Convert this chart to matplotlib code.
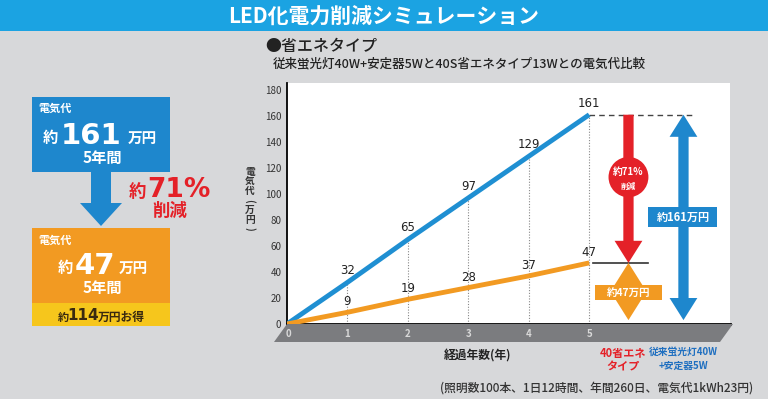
import numpy as np
import matplotlib
matplotlib.use("Agg")
import matplotlib.pyplot as plt
import matplotlib.patches as mpatches
import matplotlib.transforms as mtransforms

plt.rcParams['font.family'] = ['Noto Sans CJK JP', 'DejaVu Sans']

# データ
years = [0, 1, 2, 3, 4, 5]
cost_old = [0, 32, 65, 97, 129, 161]   # 従来蛍光灯40W+安定器5W
cost_new = [0, 9, 19, 28, 37, 47]      # 40S省エネタイプ13W
yticks = list(range(0, 181, 20))
total_old = 161
total_new = 47
saving = 114
cut_pct = 71

W, H = 768, 399
BG = '#d7d8da'
BLUE = '#1e87cd'
LINE_BLUE = '#1f8fd2'
ORANGE = '#f29a22'
YELLOW = '#f6c61c'
RED = '#e42128'

fig = plt.figure(figsize=(W / 100, H / 100), dpi=100, facecolor=BG)


def fx(x):
    return x / W


def fy(y):
    return 1 - y / H


def ftext(x, y, s, **kw):
    kw.setdefault('ha', 'center')
    kw.setdefault('va', 'center')
    kw.setdefault('fontweight', 'bold')
    fig.text(fx(x), fy(y), s, **kw)


def frect(x0, y0, x1, y1, color):
    fig.patches.append(mpatches.Rectangle((fx(x0), fy(y1)), fx(x1) - fx(x0), fy(y0) - fy(y1),
                                          transform=fig.transFigure, color=color, lw=0, zorder=0))


# タイトルバー
frect(0, 0, W, 31, '#1ba3e2')
ftext(384, 16, 'LED化電力削減シミュレーション', color='white', fontsize=15)

# 左側パネル
frect(32, 97, 170, 172, BLUE)
ftext(38, 108, '電気代', color='white', fontsize=8, ha='left')
ftext(50, 138, '約', color='white', fontsize=11)
ftext(91, 136, str(total_old), color='white', fontsize=21, family='DejaVu Sans')
ftext(142, 138, '万円', color='white', fontsize=10.5)
ftext(102, 158, '5年間', color='white', fontsize=11)

arrow = [(91, 172), (111, 172), (111, 203), (122, 203), (101, 226), (80, 203), (91, 203)]
fig.patches.append(mpatches.Polygon([(fx(a), fy(b)) for a, b in arrow], closed=True,
                                    transform=fig.transFigure, color=BLUE, lw=0))

ftext(137, 192, '約', color=RED, fontsize=12.5)
ftext(147, 190, f'{cut_pct}%', color=RED, fontsize=19, ha='left', family='DejaVu Sans')
ftext(170, 211, '削減', color=RED, fontsize=12.5)

frect(32, 228, 170, 303, ORANGE)
frect(32, 303, 170, 326, YELLOW)
ftext(38, 240, '電気代', color='white', fontsize=8, ha='left')
ftext(65, 268, '約', color='white', fontsize=11)
ftext(95, 266, str(total_new), color='white', fontsize=21, family='DejaVu Sans')
ftext(133, 268, '万円', color='white', fontsize=10.5)
ftext(102, 288, '5年間', color='white', fontsize=11)
ftext(63, 317, '約', color='#3a2a10', fontsize=8)
ftext(83, 316, str(saving), color='#3a2a10', fontsize=11, family='DejaVu Sans')
ftext(121, 317, '万円お得', color='#3a2a10', fontsize=8.5)

# 見出し
ftext(265, 46, '●省エネタイプ', color='#222222', fontsize=11.5, ha='left', fontweight='medium')
ftext(273, 64, '従来蛍光灯40W+安定器5Wと40S省エネタイプ13Wとの電気代比較',
      color='#222222', fontsize=9, ha='left', fontweight='medium')

# グラフ
ax = fig.add_axes([fx(287), fy(324), fx(730) - fx(287), fy(83) - fy(324)])
ax.set_facecolor('white')
ax.set_xlim(0, 7.33)
ax.set_ylim(0, 185.4)
for s in ['top', 'right']:
    ax.spines[s].set_visible(False)
ax.spines['left'].set_linewidth(1.3)
ax.spines['bottom'].set_linewidth(2)
ax.set_yticks(yticks)
ax.set_xticks([])
ax.tick_params(axis='y', length=0, labelsize=7, pad=4, labelcolor='#333333')

for x, v in zip(years[1:], cost_old[1:]):
    ax.plot([x, x], [0, v], color='#888888', lw=0.8, ls=(0, (1, 1.5)), zorder=1)

ax.plot(years, cost_old, color=LINE_BLUE, lw=3.5, solid_capstyle='butt', zorder=3)
ax.plot(years, cost_new, color=ORANGE, lw=3.5, solid_capstyle='butt', zorder=3)

for x, v in zip(years[1:], cost_old[1:]):
    ax.text(x, v + 9, str(v), ha='center', va='center', fontsize=8.5, color='#222222',
            family='DejaVu Sans')
for x, v in zip(years[1:], cost_new[1:]):
    ax.text(x, v + 8, str(v), ha='center', va='center', fontsize=8.5, color='#222222',
            family='DejaVu Sans')

# 補助線
ax.plot([5, 6.7], [total_old, total_old], color='#444444', lw=1, ls=(0, (4, 3)), zorder=2)
ax.plot([5.07, 5.98], [total_new, total_new], color='#333333', lw=1.2, zorder=2)


def v_arrow(x, y_from, y_to, color, both=False, sw=0.17, hw=0.46, hl=17):
    # 縦向きの矢印 (y_from -> y_to)
    d = 1 if y_to > y_from else -1
    pts = []
    if both:
        pts += [(x - sw / 2, y_from + d * hl), (x - hw / 2, y_from + d * hl), (x, y_from),
                (x + hw / 2, y_from + d * hl), (x + sw / 2, y_from + d * hl)]
    else:
        pts += [(x - sw / 2, y_from), (x + sw / 2, y_from)]
    pts += [(x + sw / 2, y_to - d * hl), (x + hw / 2, y_to - d * hl), (x, y_to),
            (x - hw / 2, y_to - d * hl), (x - sw / 2, y_to - d * hl)]
    ax.add_patch(mpatches.Polygon(pts, closed=True, color=color, lw=0, zorder=4))


v_arrow(5.65, total_old, total_new, RED)
ax.add_patch(mpatches.Ellipse((5.65, 113), 0.66, 31, color=RED, lw=0, zorder=5))
ax.text(5.65, 117, f'約{cut_pct}%', ha='center', va='center', color='white', fontsize=7,
        fontweight='bold', zorder=6)
ax.text(5.65, 106, '削減', ha='center', va='center', color='white', fontsize=5.5,
        fontweight='bold', zorder=6)

v_arrow(5.65, total_new, 3, ORANGE, both=True)
ax.add_patch(mpatches.Rectangle((5.10, 18.5), 1.11, 11.5, color=ORANGE, lw=0, zorder=5))
ax.text(5.655, 24.2, f'約{total_new}万円', ha='center', va='center', color='white',
        fontsize=7.5, fontweight='bold', zorder=6)

v_arrow(6.56, 3, total_old, BLUE, both=True)
ax.add_patch(mpatches.Rectangle((5.98, 74.6), 1.14, 15.4, color=BLUE, lw=0, zorder=5))
ax.text(6.55, 82.3, f'約{total_old}万円', ha='center', va='center', color='white',
        fontsize=8, fontweight='bold', zorder=6)

# 傾いた床 (x 軸ラベル帯)
floor = [(287, 324), (733, 324), (720, 342), (274, 342)]
fig.patches.append(mpatches.Polygon([(fx(a), fy(b)) for a, b in floor], closed=True,
                                    transform=fig.transFigure, color='#7b7c7f', lw=0))
trans = mtransforms.blended_transform_factory(ax.transData, fig.transFigure)
for x in years:
    fig.text(x + (0.02 if x == 0 else 0), fy(334), str(x), transform=trans, ha='center',
             va='center', fontsize=7, color='#d8d8d8', fontweight='bold')

# 縦書きの軸ラベル
ylabel_chars = ['電', '気', '代', '(', '万', '円', ')']
for i, ch in enumerate(ylabel_chars):
    rot = -90 if ch in '()' else 0
    ftext(250, 172 + i * 9.5, ch, fontsize=7, color='#333333', rotation=rot)

ftext(478, 356, '経過年数(年)', fontsize=8.5, color='#222222')
ftext(623, 354, '40省エネ', fontsize=8, color=RED)
ftext(623, 367, 'タイプ', fontsize=8, color=RED)
ftext(683, 353, '従来蛍光灯40W', fontsize=7, color='#1f6fc0')
ftext(683, 366, '+安定器5W', fontsize=7, color='#1f6fc0')
ftext(597, 388, '(照明数100本、1日12時間、年間260日、電気代1kWh23円)', fontsize=8.5,
      color='#333333', fontweight='medium')

fig.savefig('out.png', dpi=100, facecolor=BG)
